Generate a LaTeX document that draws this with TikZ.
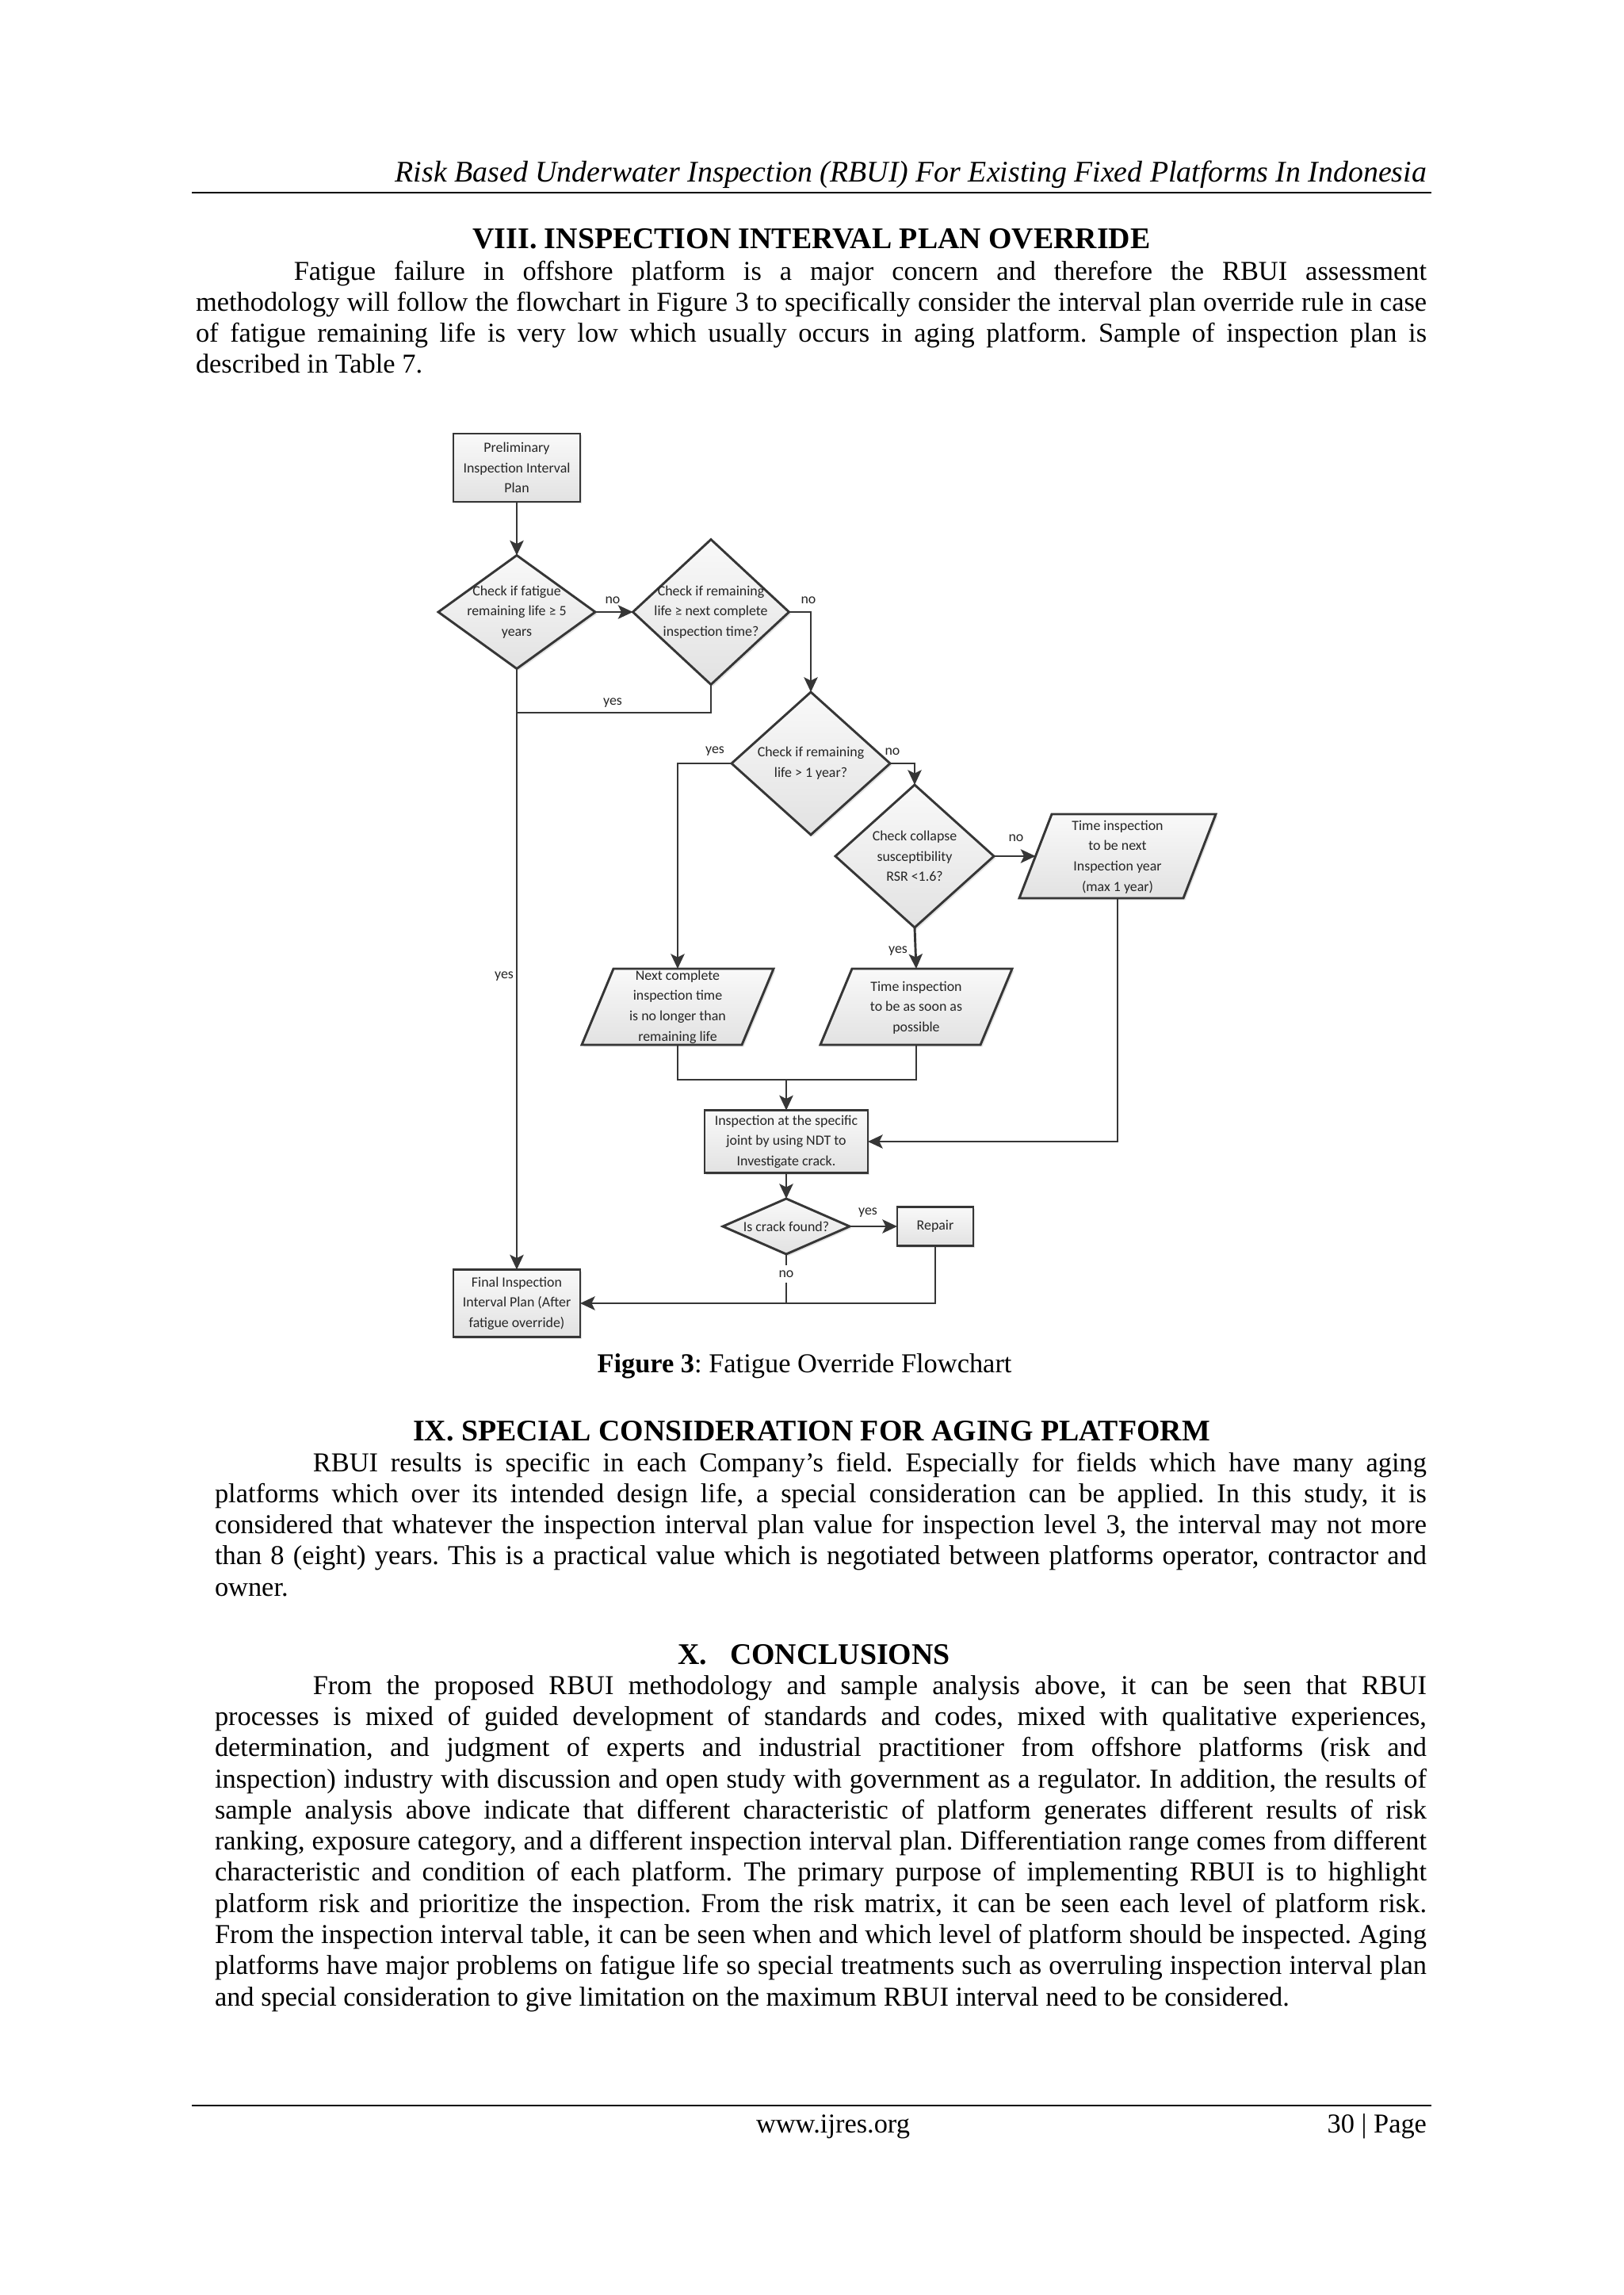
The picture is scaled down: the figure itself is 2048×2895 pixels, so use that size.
\documentclass[tikz,border=0pt]{standalone}
\usepackage{fontspec}
\setmainfont{Liberation Serif}
\newfontfamily\fcfont{Carlito}
\usetikzlibrary{shapes.geometric,arrows.meta,shadows,calc}
\newcommand\pxu{0.29066pt}
\newcommand\pjl[1]{\hbox to\hsize{#1}}
\newcommand\plst[1]{\hbox{#1}}
\definecolor{ln}{HTML}{363636}
\definecolor{tx}{HTML}{262626}
\definecolor{ftop}{HTML}{F9F9F9}
\definecolor{fbot}{HTML}{E2E2E2}
\frenchspacing
\begin{document}
\frenchspacing
\begin{tikzpicture}[x=0.29066pt,y=-0.29066pt,
  every node/.style={inner sep=0pt,outer sep=0pt},
  shp/.style={draw=ln,line width=0.85pt,top color=ftop,bottom color=fbot,
    drop shadow={opacity=0.22,shadow xshift=0.7pt,shadow yshift=-0.7pt}},
  rbox/.style 2 args={shp,rectangle,minimum width={#1*\pxu},minimum height={#2*\pxu}},
  dmd/.style 2 args={shp,diamond,minimum width={#1*\pxu},minimum height={#2*\pxu}},
  pbox/.style 2 args={rectangle,minimum width={#1*\pxu},minimum height={#2*\pxu}},
  fct/.style={font=\fcfont\fontsize{5.2}{7.45}\selectfont,text=tx,align=center},
  lbl/.style={font=\fcfont\fontsize{5.2}{6}\selectfont,text=tx},
  cn/.style={draw=ln,line width=0.85pt},
  arr/.style={cn,-{Stealth[length=5.4pt,width=5pt,inset=1.2pt]}},
  body/.style={anchor=base west,font=\fontsize{10}{11.43}\selectfont},
  head/.style={anchor=base,font=\bfseries\fontsize{11}{13}\selectfont}
]
\fill[white] (0,0) rectangle (2048,2895);
\useasboundingbox (0,0) rectangle (2048,2895);

% page header
\node[anchor=base east,font=\itshape\fontsize{11}{13}\selectfont] (hdr) at (1800,229)
  {Risk Based Underwater Inspection (RBUI) For Existing Fixed Platforms In Indonesia};
\coordinate (hrl) at (242,243);
\coordinate (hrr) at (1806,243);
\draw[line width=0.8pt] (hrl) -- (hrr);

% section VIII
\node[head] (h8) at (1024,313) {VIII. INSPECTION INTERVAL PLAN OVERRIDE};
\node[body] (t8) at (247,353) {\vtop{\hsize=451.4pt
\pjl{\hskip36pt Fatigue failure in offshore platform is a major concern and therefore the RBUI assessment}
\pjl{methodology will follow the flowchart in Figure 3 to specifically consider the interval plan override rule in case}
\pjl{of fatigue remaining life is very low which usually occurs in aging platform. Sample of inspection plan is}
\plst{described in Table 7.}}};

% flowchart shapes
\node[rbox={160}{86},fct] (pre) at (652,590) {Preliminary\\Inspection Interval\\Plan};
\node[dmd={198}{143}] (d1) at (652,772) {};
\node[fct] (d1t) at (652,772) {Check if fatigue\\remaining life ≥ 5\\years};
\node[dmd={197}{183}] (d2) at (897,772) {};
\node[fct] (d2t) at (897,772) {Check if remaining\\life ≥ next complete\\inspection time?};
\node[dmd={200}{180}] (d3) at (1023,963) {};
\node[fct] (d3t) at (1023,963) {Check if remaining\\life > 1 year?};
\node[dmd={200}{180}] (d4) at (1154,1080) {};
\node[fct] (d4t) at (1154,1080) {Check collapse\\susceptibility\\RSR <1.6?};

\node[pbox={248}{106}] (p3) at (1410,1080) {};
\path[shp] ($(p3.north west)+(41,0)$) -- (p3.north east) -- ($(p3.south east)+(-41,0)$) -- (p3.south west) -- cycle;
\node[fct] (p3t) at (1410,1081) {Time inspection\\to be next\\Inspection year\\(max 1 year)};
\node[pbox={242}{96}] (p1) at (855,1270) {};
\path[shp] ($(p1.north west)+(40,0)$) -- (p1.north east) -- ($(p1.south east)+(-40,0)$) -- (p1.south west) -- cycle;
\node[fct] (p1t) at (855,1270) {Next complete\\inspection time\\is no longer than\\remaining life};
\node[pbox={242}{96}] (p2) at (1156,1270) {};
\path[shp] ($(p2.north west)+(40,0)$) -- (p2.north east) -- ($(p2.south east)+(-40,0)$) -- (p2.south west) -- cycle;
\node[fct] (p2t) at (1156,1271) {Time inspection\\to be as soon as\\possible};

\node[rbox={206}{79},fct] (insp) at (992,1440) {Inspection at the specific\\joint by using NDT to\\Investigate crack.};
\node[dmd={160}{70}] (crk) at (992,1547) {};
\node[fct] (crkt) at (992,1547) {Is crack found?};
\node[rbox={96}{49},fct] (rep) at (1180,1547) {Repair};
\node[rbox={160}{85},fct] (fin) at (652,1644) {Final Inspection\\Interval Plan (After\\fatigue override)};

\coordinate (j1) at (652,899);
\coordinate (m) at (992,1362);
\coordinate (p3in) at ($(p3.west)+(20.5,0)$);

\draw[arr] (pre.south) -- (d1.north);
\draw[arr] (d1.east) -- (d2.west);
\draw[arr] (d2.east) -| (d3.north);
\draw[cn] (d2.south) |- (j1);
\draw[arr] (d1.south) -- (fin.north);
\draw[arr] (d3.west) -| (p1.north);
\draw[arr] (d3.east) -| (d4.north);
\draw[arr] (d4.east) -- (p3in);
\draw[arr] (d4.south) -- (p2.north);
\draw[cn] (p1.south) |- (m) -| (p2.south);
\draw[arr] (m) -- (insp.north);
\draw[arr] (p3.south) |- (insp.east);
\draw[arr] (insp.south) -- (crk.north);
\draw[arr] (crk.east) -- (rep.west);
\draw[cn] (crk.south) -- (crk.south |- fin.east);
\draw[arr] (rep.south) |- (fin.east);

\node[lbl] (l1) at (773,757) {no};
\node[lbl] (l2) at (1020,757) {no};
\node[lbl] (l3) at (773,887) {yes};
\node[lbl] (l4) at (902,948) {yes};
\node[lbl] (l5) at (1126,948) {no};
\node[lbl] (l6) at (1282,1057) {no};
\node[lbl] (l7) at (1133,1200) {yes};
\node[lbl] (l8) at (636,1232) {yes};
\node[lbl] (l9) at (1095,1530) {yes};
\node[lbl,fill=white,inner sep=2pt] (l10) at (992,1607) {no};

\node[anchor=base,font=\fontsize{10}{12}\selectfont] (cap) at (1015,1731)
  {\textbf{Figure 3}: Fatigue Override Flowchart};

% section IX
\node[head] (h9) at (1024,1817) {IX. SPECIAL CONSIDERATION FOR AGING PLATFORM};
\node[body] (t9) at (271,1856) {\vtop{\hsize=444.4pt
\pjl{\hskip36pt RBUI results is specific in each Company’s field. Especially for fields which have many aging}
\pjl{platforms which over its intended design life, a special consideration can be applied. In this study, it is}
\pjl{considered that whatever the inspection interval plan value for inspection level 3, the interval may not more}
\pjl{than 8 (eight) years. This is a practical value which is negotiated between platforms operator, contractor and}
\plst{owner.}}};

% section X
\node[head] (h10) at (1027,2099) {X.\hspace{8.5pt}CONCLUSIONS};
\node[body] (t10) at (271,2137) {\vtop{\hsize=444.4pt
\pjl{\hskip36pt From the proposed RBUI methodology and sample analysis above, it can be seen that RBUI}
\pjl{processes is mixed of guided development of standards and codes, mixed with qualitative experiences,}
\pjl{determination, and judgment of experts and industrial practitioner from offshore platforms (risk and}
\pjl{inspection) industry with discussion and open study with government as a regulator. In addition, the results of}
\pjl{sample analysis above indicate that different characteristic of platform generates different results of risk}
\pjl{ranking, exposure category, and a different inspection interval plan. Differentiation range comes from different}
\pjl{characteristic and condition of each platform. The primary purpose of implementing RBUI is to highlight}
\pjl{platform risk and prioritize the inspection. From the risk matrix, it can be seen each level of platform risk.}
\pjl{From the inspection interval table, it can be seen when and which level of platform should be inspected. Aging}
\pjl{platforms have major problems on fatigue life so special treatments such as overruling inspection interval plan}
\plst{and special consideration to give limitation on the maximum RBUI interval need to be considered.}}};

% footer
\coordinate (frl) at (242,2656);
\coordinate (frr) at (1806,2656);
\draw[line width=0.6pt] (frl) -- (frr);
\node[anchor=base,font=\fontsize{10}{12}\selectfont] (url) at (1051,2690) {www.ijres.org};
\node[anchor=base east,font=\fontsize{10}{12}\selectfont] (pg) at (1800,2690) {30 | Page};
\end{tikzpicture}
\end{document}
